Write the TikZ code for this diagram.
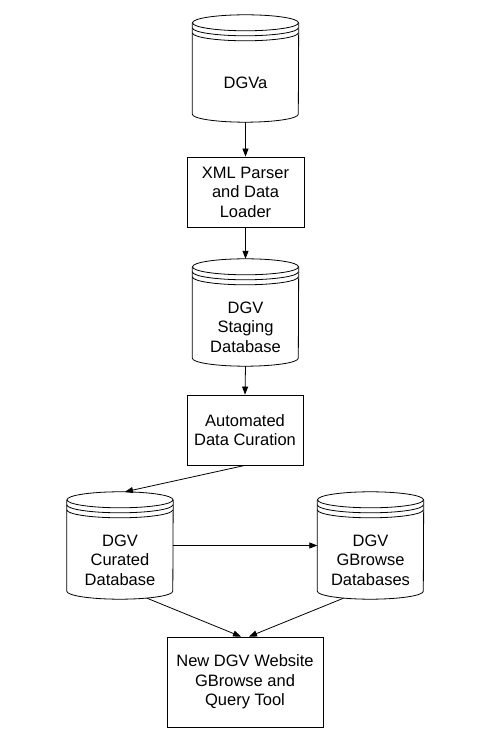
\documentclass[tikz,border=0pt]{standalone}
\usepackage{fontspec}
\setmainfont{Liberation Sans}
\usetikzlibrary{arrows.meta}

\tikzset{
  flowbox/.style={draw, line width=0.8pt, align=center, inner sep=0pt},
  dbbody/.style={minimum width=106pt, minimum height=91pt, inner sep=0pt},
  dbtext/.style={align=center, inner sep=0pt},
  flowarrow/.style={line width=0.8pt, -{Triangle[length=8pt,width=6pt]}}
}

\begin{document}
\begin{tikzpicture}[x=1pt, y=1pt, font=\fontsize{16.5}{19.5}\selectfont]
  \useasboundingbox (0,0) rectangle (487,744);

  % database bodies
  \node[dbbody] (dgva)    at (245.5,675.5) {};
  \node[dbbody] (staging) at (245.5,431.5) {};
  \node[dbbody] (curated) at (120,198.5) {};
  \node[dbbody] (gbrowse) at (370.5,198.5) {};

  \node[dbtext] (dgvatext)    at ([yshift=-14.5pt]dgva.center) {DGVa};
  \node[dbtext] (stagingtext) at ([yshift=-14.5pt]staging.center) {DGV\\Staging\\Database};
  \node[dbtext] (curatedtext) at ([yshift=-14.5pt]curated.center) {DGV\\Curated\\Database};
  \node[dbtext] (gbrowsetext) at ([yshift=-14.5pt]gbrowse.center) {DGV\\GBrowse\\Databases};

  % process boxes
  \node[flowbox, minimum width=117pt, minimum height=70pt] (xml) at (245.5,552) {XML Parser\\and Data\\Loader};
  \node[flowbox, minimum width=116pt, minimum height=70pt] (auto) at (245,314) {Automated\\Data Curation};
  \node[flowbox, minimum width=156pt, minimum height=90pt] (newdgv) at (245,62) {New DGV Website\\GBrowse and\\Query Tool};

  % cylinder outlines
  \foreach \db in {dgva,staging,curated,gbrowse}{
    \draw[line width=0.8pt] (\db.north) ellipse [x radius=53pt, y radius=8pt];
    \draw[line width=0.8pt] (\db.north west) -- (\db.south west)
      arc [start angle=180, end angle=360, x radius=53pt, y radius=8pt] -- (\db.north east);
    \foreach \d in {5,10}
      \draw[line width=0.8pt] ([yshift=-\d pt]\db.north west)
        arc [start angle=180, end angle=360, x radius=53pt, y radius=8pt];
  }

  % connectors
  \draw[flowarrow] ([yshift=-8pt]dgva.south) -- (xml.north);
  \draw[flowarrow] (xml.south) -- ([yshift=8pt]staging.north);
  \draw[flowarrow] ([yshift=-8pt]staging.south) -- (auto.north);
  \draw[flowarrow] (auto.south) -- ([xshift=5pt,yshift=8pt]curated.north);
  \draw[flowarrow] (curated.east) -- (gbrowse.west);
  \draw[flowarrow] ([xshift=27pt,yshift=-7pt]curated.south) -- ([xshift=-4pt]newdgv.north);
  \draw[flowarrow] ([xshift=-27pt,yshift=-7pt]gbrowse.south) -- ([xshift=4pt]newdgv.north);
\end{tikzpicture}
\end{document}
